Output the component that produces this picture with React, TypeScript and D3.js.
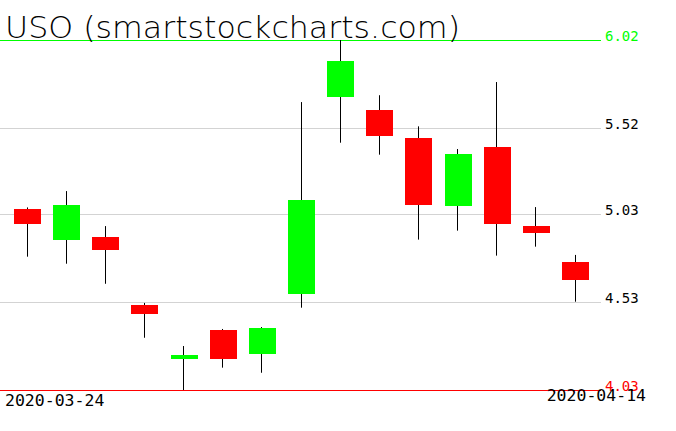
import { useRef, useEffect } from 'react';
import * as d3 from 'd3';

const dates = [
    '2020-03-24', '2020-03-25', '2020-03-26', '2020-03-27', '2020-03-30',
    '2020-03-31', '2020-04-01', '2020-04-02', '2020-04-03', '2020-04-06',
    '2020-04-07', '2020-04-08', '2020-04-09', '2020-04-13', '2020-04-14'
];
const opens = [5.06, 4.885, 4.90, 4.513, 4.206, 4.371, 4.235, 4.578, 5.698, 5.622, 5.463, 5.078, 5.412, 4.962, 4.758];
const closes = [4.974, 5.082, 4.828, 4.464, 4.229, 4.206, 4.383, 5.11, 5.901, 5.476, 5.084, 5.372, 4.976, 4.924, 4.657];
const highs = [5.068, 5.161, 4.962, 4.525, 4.28, 4.377, 4.388, 5.667, 6.02, 5.706, 5.529, 5.40, 5.781, 5.07, 4.798];
const lows = [4.788, 4.748, 4.634, 4.327, 4.03, 4.157, 4.128, 4.498, 5.436, 5.368, 4.885, 4.936, 4.794, 4.845, 4.532];
const gridTicks = [6.02, 5.52, 5.03, 4.53, 4.03];

const StockChart = () => {
    const svgRef = useRef<SVGSVGElement | null>(null);

    useEffect(() => {
        const svgElement = svgRef.current;
        if (!svgElement) return;
        const width = 676;
        const height = 431;

        const svg = d3.select(svgElement)
            .attr('width', width)
            .attr('height', height);
        svg.selectAll('*').remove();

        const x = d3.scalePoint<string>()
            .domain(dates)
            .range([26.5, 574.5]);

        const y = d3.scaleLinear()
            .domain([4.03, 6.02])
            .range([390, 40]);

        const bodyWidth = 27;
        const maxV = d3.max(gridTicks)!;
        const minV = d3.min(gridTicks)!;
        const lineColor = (v: number) => v === maxV ? '#00ff00' : v === minV ? '#ff0000' : '#d3d3d3';
        const textColor = (v: number) => v === maxV ? '#00ff00' : v === minV ? '#ff0000' : '#000';

        // horizontal price lines
        svg.append('g')
            .selectAll('line')
            .data(gridTicks)
            .join('line')
            .attr('x1', 0)
            .attr('x2', 601)
            .attr('y1', d => Math.round(y(d)) + 0.5)
            .attr('y2', d => Math.round(y(d)) + 0.5)
            .attr('stroke', d => lineColor(d))
            .attr('stroke-width', 1);

        svg.append('g')
            .selectAll('text')
            .data(gridTicks)
            .join('text')
            .attr('x', 605)
            .attr('y', d => y(d) + 1)
            .text(d => d.toFixed(2))
            .style('font-family', '"DejaVu Sans Mono", monospace')
            .style('font-size', '14px')
            .style('fill', d => textColor(d));

        const candles = dates.map((d, i) => ({
            date: d, open: opens[i], close: closes[i], high: highs[i], low: lows[i]
        }));

        // wicks
        svg.append('g')
            .selectAll('line')
            .data(candles)
            .join('line')
            .attr('x1', d => Math.round(x(d.date)!) + 0.5)
            .attr('x2', d => Math.round(x(d.date)!) + 0.5)
            .attr('y1', d => y(d.high))
            .attr('y2', d => y(d.low))
            .attr('stroke', '#000')
            .attr('stroke-width', 1);

        // bodies
        svg.append('g')
            .selectAll('rect')
            .data(candles)
            .join('rect')
            .attr('x', d => Math.round(x(d.date)! - bodyWidth / 2) + 0.5)
            .attr('width', bodyWidth)
            .attr('y', d => y(Math.max(d.open, d.close)))
            .attr('height', d => Math.max(3, Math.abs(y(d.open) - y(d.close))))
            .attr('fill', d => d.close >= d.open ? '#00ff00' : '#ff0000')
            .attr('shape-rendering', 'crispEdges');

        // title
        svg.append('text')
            .attr('x', 5)
            .attr('y', 38)
            .attr('textLength', 455)
            .attr('lengthAdjust', 'spacingAndGlyphs')
            .text('USO (smartstockcharts.com)')
            .style('font-family', '"DejaVu Sans", sans-serif')
            .style('font-weight', '300')
            .style('font-size', '31px')
            .style('fill', '#000');

        // date labels
        svg.append('text')
            .attr('x', 5)
            .attr('y', 406)
            .text(dates[0])
            .style('font-family', '"DejaVu Sans Mono", monospace')
            .style('font-size', '16.5px')
            .style('fill', '#000');

        svg.append('text')
            .attr('x', 646)
            .attr('y', 401)
            .attr('text-anchor', 'end')
            .text(dates[dates.length - 1])
            .style('font-family', '"DejaVu Sans Mono", monospace')
            .style('font-size', '16.5px')
            .style('fill', '#000');
    }, []);

    return (
        <svg ref={svgRef} style={{ position: 'absolute', left: 0, top: 0, background: '#fff' }}></svg>
    );
};

export default function App() {
    return <StockChart />;
}
